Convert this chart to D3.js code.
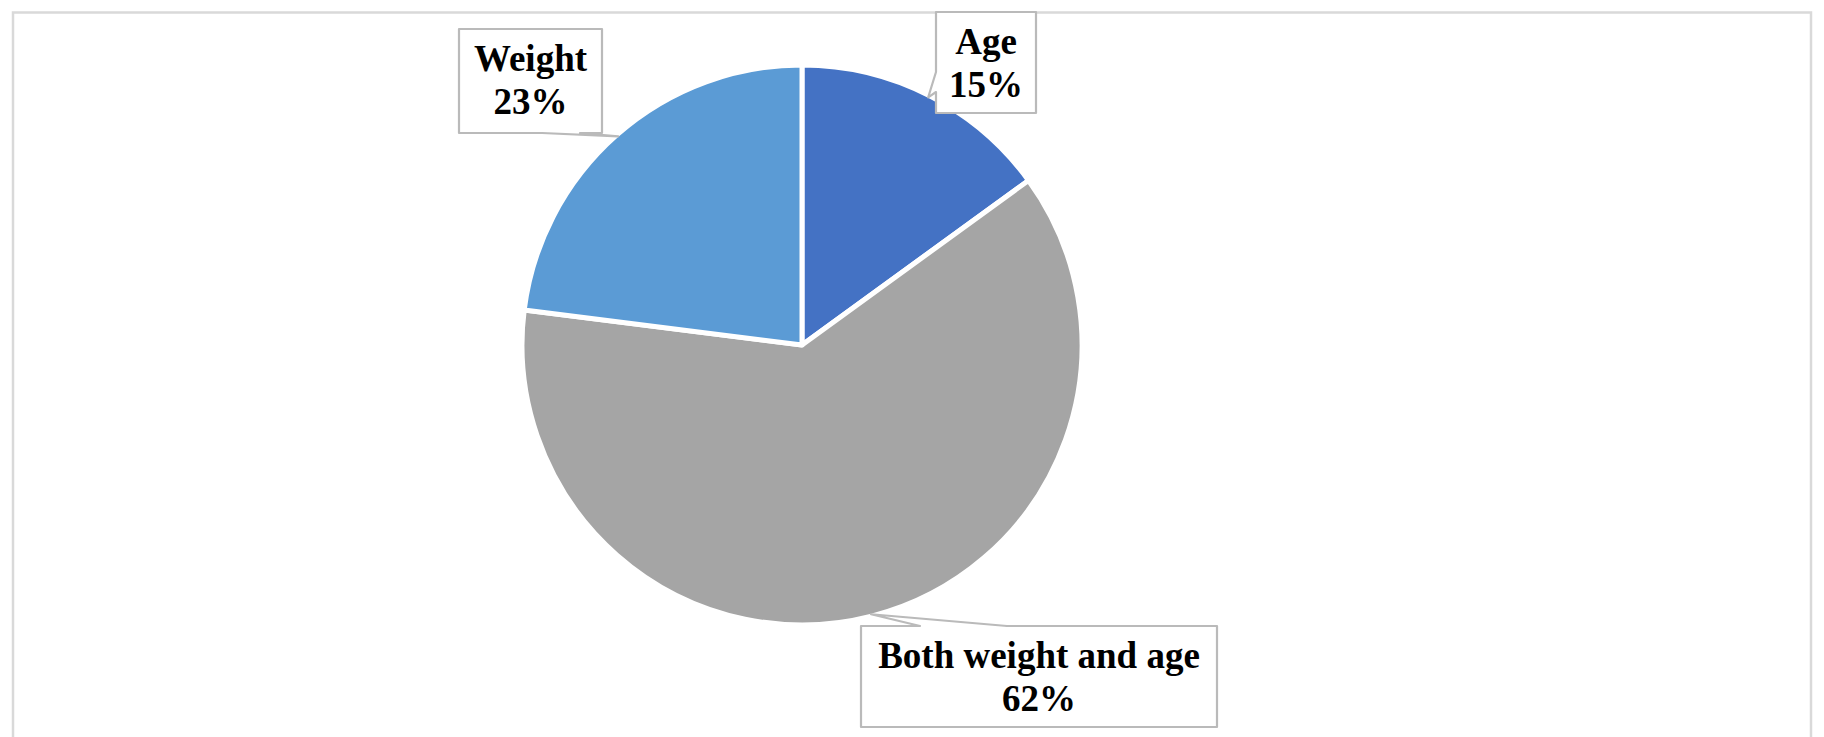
<!DOCTYPE html>
<html>
<head>
<meta charset="utf-8">
<script src="https://cdn.jsdelivr.net/npm/d3@7"></script>
<style>
  body { margin: 0; background: #fff; }
  .lbl { font-family: "Liberation Serif", "Times New Roman", serif; font-weight: bold; font-size: 37px; fill: #000; }
</style>
</head>
<body>
<script>
// chart data
var categories = ["Age", "Both weight and age", "Weight"];
var shares = [15, 62, 23];
var colors = ["#4472C4", "#A5A5A5", "#5B9BD5"];

// where each label box sits, and on which side its pointer leaves the box
var boxes = [
  { x: 936, y: 12, w: 100, h: 101, side: "left",   b0: 72,  b1: 92 },
  { x: 861, y: 626, w: 356, h: 101, side: "top",   b0: 920, b1: 1007 },
  { x: 459, y: 29, w: 143, h: 104, side: "bottom", b0: 542, b1: 580 }
];

var W = 1824, H = 737;
var cx = 802, cy = 345, r = 280;

var svg = d3.select("body").append("svg")
    .attr("width", W).attr("height", H);

// outer chart frame
svg.append("rect")
    .attr("x", 13).attr("y", 12.5).attr("width", 1798).attr("height", 760)
    .attr("fill", "none").attr("stroke", "#d9d9d9").attr("stroke-width", 2.5);

var data = categories.map(function(c, i) { return { name: c, value: shares[i], color: colors[i], box: boxes[i] }; });

var pie = d3.pie().sort(null).value(function(d) { return d.value; });
var arc = d3.arc().innerRadius(0).outerRadius(r);
var tipArc = d3.arc().innerRadius(r - 2).outerRadius(r - 2);

var g = svg.append("g").attr("transform", "translate(" + cx + "," + cy + ")");
var arcs = pie(data);

g.selectAll("path.slice").data(arcs).enter().append("path")
    .attr("class", "slice")
    .attr("d", arc)
    .attr("fill", function(d) { return d.data.color; })
    .attr("stroke", "#fff").attr("stroke-width", 5).attr("stroke-linejoin", "round");

// callout outline: rectangle with a thin wedge pointing at the slice
function callout(b, tx, ty) {
  var x0 = b.x, y0 = b.y, x1 = b.x + b.w, y1 = b.y + b.h;
  var p = d3.path();
  p.moveTo(x0, y0);
  if (b.side === "top") { p.lineTo(b.b0, y0); p.lineTo(tx, ty); p.lineTo(b.b1, y0); }
  p.lineTo(x1, y0);
  p.lineTo(x1, y1);
  if (b.side === "bottom") { p.lineTo(b.b1, y1); p.lineTo(tx, ty); p.lineTo(b.b0, y1); }
  p.lineTo(x0, y1);
  if (b.side === "left") { p.lineTo(x0, b.b1); p.lineTo(tx, ty); p.lineTo(x0, b.b0); }
  p.closePath();
  return p.toString();
}

var labels = svg.selectAll("g.lab").data(arcs).enter().append("g").attr("class", "lab");

labels.append("path")
    .attr("d", function(d) {
      var c = tipArc.centroid(d);
      return callout(d.data.box, cx + c[0], cy + c[1]);
    })
    .attr("fill", "#fff").attr("stroke", "#bababa").attr("stroke-width", 2.2).attr("stroke-linejoin", "round");

var txt = labels.append("text").attr("class", "lbl").attr("text-anchor", "middle");
txt.append("tspan")
    .attr("x", function(d) { return d.data.box.x + d.data.box.w / 2; })
    .attr("y", function(d) { return d.data.box.y + 42; })
    .text(function(d) { return d.data.name; });
txt.append("tspan")
    .attr("x", function(d) { return d.data.box.x + d.data.box.w / 2; })
    .attr("y", function(d) { return d.data.box.y + 85; })
    .text(function(d) { return d.data.value + "%"; });
</script>
</body>
</html>
